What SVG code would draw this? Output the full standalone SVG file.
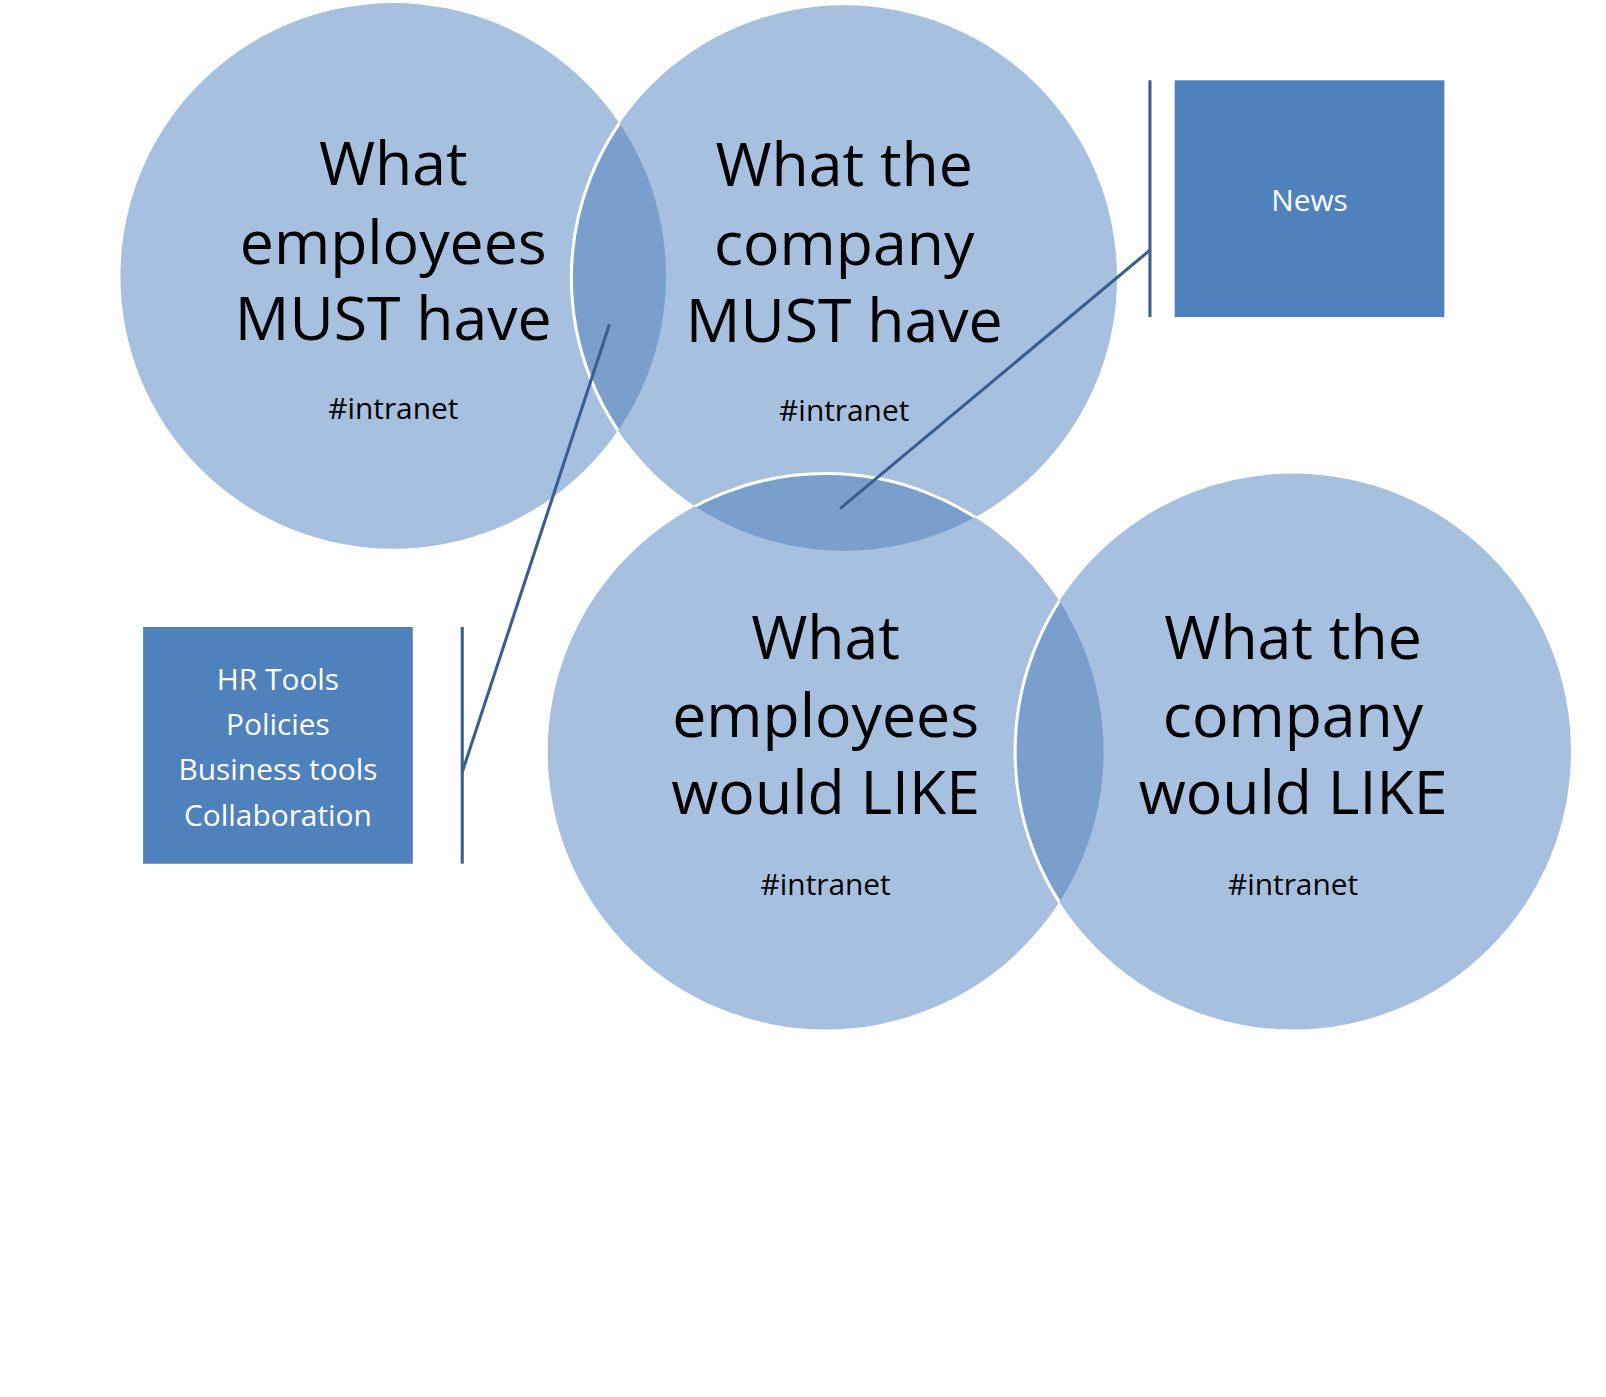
<svg xmlns="http://www.w3.org/2000/svg" width="1606" height="1397" viewBox="0 0 1606 1397">
<style>
.c{fill:#a8c0df}
.o{fill:#7a9fcc}
.e{fill:none;stroke:#fff;stroke-width:3}
.big{font-family:"Open Sans","Liberation Sans",sans-serif;font-size:59px;fill:#000;text-anchor:middle}
.tag{font-family:"Open Sans","Liberation Sans",sans-serif;font-size:29px;fill:#000;text-anchor:middle}
.bt{font-family:"Open Sans","Liberation Sans",sans-serif;font-size:29px;fill:#fff;text-anchor:middle}
.box{fill:#4f81bd}
.ln{stroke:#3a5f8f;stroke-width:3;fill:none}
</style>
<defs>
<clipPath id="k1"><circle cx="382" cy="268" r="265"/></clipPath>
<clipPath id="k2"><circle cx="820" cy="270" r="265"/></clipPath>
<clipPath id="k3"><circle cx="802" cy="730" r="270"/></clipPath>
</defs>
<rect width="1606" height="1397" fill="#fff"/>
<g transform="scale(1.0295)">
<g id="c1"><circle class="c" cx="382" cy="268" r="265"/></g>
<g id="c2"><circle class="c" cx="820" cy="270" r="265"/></g>
<g id="c3"><circle class="c" cx="802" cy="730" r="270"/></g>
<g id="c4"><circle class="c" cx="1256" cy="730" r="270"/></g>
<g id="overlaps">
<circle class="o" cx="820" cy="270" r="265" clip-path="url(#k1)"/>
<circle class="e" cx="820" cy="270" r="265" clip-path="url(#k1)"/>
<circle class="o" cx="802" cy="730" r="270" clip-path="url(#k2)"/>
<circle class="e" cx="802" cy="730" r="270" clip-path="url(#k2)"/>
<circle class="o" cx="1256" cy="730" r="270" clip-path="url(#k3)"/>
<circle class="e" cx="1256" cy="730" r="270" clip-path="url(#k3)"/>
</g>
<g id="t1"><text class="big" x="382" y="180">What</text><text class="big" x="382" y="256">employees</text><text class="big" x="382" y="330">MUST have</text><text class="tag" x="382" y="407">#intranet</text></g>
<g id="t2"><text class="big" x="820" y="181">What the</text><text class="big" x="820" y="257">company</text><text class="big" x="820" y="332">MUST have</text><text class="tag" x="820" y="409">#intranet</text></g>
<g id="t3"><text class="big" x="802" y="640">What</text><text class="big" x="802" y="716">employees</text><text class="big" x="802" y="791">would LIKE</text><text class="tag" x="802" y="869">#intranet</text></g>
<g id="t4"><text class="big" x="1256" y="640">What the</text><text class="big" x="1256" y="716">company</text><text class="big" x="1256" y="791">would LIKE</text><text class="tag" x="1256" y="869">#intranet</text></g>
<g id="news"><rect class="box" x="1141" y="78" width="262" height="230"/><text class="bt" x="1272" y="205">News</text></g>
<g id="hr"><rect class="box" x="139" y="609" width="262" height="230"/>
<text class="bt" x="270" y="670">HR Tools</text><text class="bt" x="270" y="714">Policies</text><text class="bt" x="270" y="758">Business tools</text><text class="bt" x="270" y="802">Collaboration</text></g>
<g id="connectors">
<line class="ln" x1="1117" y1="78" x2="1117" y2="308"/>
<line class="ln" x1="1117" y1="243" x2="816" y2="494"/>
<line class="ln" x1="449" y1="609" x2="449" y2="839"/>
<line class="ln" x1="449" y1="750" x2="592" y2="315"/>
</g>
</g>
</svg>
